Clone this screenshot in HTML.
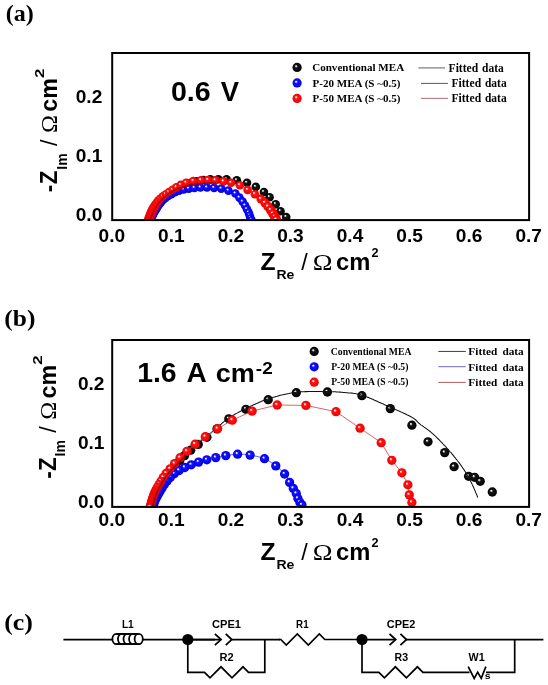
<!DOCTYPE html>
<html lang="en"><head><meta charset="utf-8"><title>Nyquist plots</title>
<style>html,body{margin:0;padding:0;background:#fff;}svg{display:block;}text{fill:#000;}</style>
</head><body>
<svg width="548" height="685" viewBox="0 0 548 685">
<defs>
<radialGradient id="gk" cx="0.5" cy="0.5" r="0.5" fx="0.37" fy="0.34"><stop offset="0" stop-color="#f0f0f0"/><stop offset="0.09" stop-color="#f0f0f0"/><stop offset="0.33" stop-color="#161616"/><stop offset="1" stop-color="#000000"/></radialGradient>
<radialGradient id="gb" cx="0.5" cy="0.5" r="0.5" fx="0.37" fy="0.34"><stop offset="0" stop-color="#f4f4ff"/><stop offset="0.09" stop-color="#f4f4ff"/><stop offset="0.33" stop-color="#1414ff"/><stop offset="1" stop-color="#0000e6"/></radialGradient>
<radialGradient id="gr" cx="0.5" cy="0.5" r="0.5" fx="0.37" fy="0.34"><stop offset="0" stop-color="#fff4f4"/><stop offset="0.09" stop-color="#fff4f4"/><stop offset="0.33" stop-color="#ff1414"/><stop offset="1" stop-color="#ee0000"/></radialGradient>
</defs>
<rect width="548" height="685" fill="#fff"/>
<text transform="translate(5.70 20.80) scale(1.0459 1)" font-family='"Liberation Serif", "Times New Roman", serif' font-size="23.00" font-weight="bold">(a)</text>
<text transform="translate(4.34 326.30) scale(1.1051 1)" font-family='"Liberation Serif", "Times New Roman", serif' font-size="23.00" font-weight="bold">(b)</text>
<text transform="translate(4.13 630.00) scale(1.1244 1)" font-family='"Liberation Serif", "Times New Roman", serif' font-size="23.00" font-weight="bold">(c)</text>
<clipPath id="ca"><rect x="112.2" y="53.0" width="416.9" height="167.7"/></clipPath>
<g clip-path="url(#ca)">
<circle cx="150.4" cy="219.5" r="4.30" fill="url(#gk)"/>
<circle cx="150.7" cy="218.4" r="4.30" fill="url(#gk)"/>
<circle cx="151.1" cy="217.1" r="4.30" fill="url(#gk)"/>
<circle cx="151.5" cy="215.8" r="4.30" fill="url(#gk)"/>
<circle cx="152.0" cy="214.4" r="4.30" fill="url(#gk)"/>
<circle cx="152.8" cy="212.9" r="4.30" fill="url(#gk)"/>
<circle cx="153.7" cy="211.4" r="4.30" fill="url(#gk)"/>
<circle cx="154.7" cy="209.8" r="4.30" fill="url(#gk)"/>
<circle cx="155.7" cy="207.9" r="4.30" fill="url(#gk)"/>
<circle cx="156.8" cy="206.0" r="4.30" fill="url(#gk)"/>
<circle cx="158.2" cy="203.9" r="4.30" fill="url(#gk)"/>
<circle cx="159.8" cy="201.8" r="4.30" fill="url(#gk)"/>
<circle cx="161.8" cy="199.7" r="4.30" fill="url(#gk)"/>
<circle cx="164.1" cy="197.5" r="4.30" fill="url(#gk)"/>
<circle cx="166.7" cy="195.4" r="4.30" fill="url(#gk)"/>
<circle cx="169.7" cy="193.2" r="4.30" fill="url(#gk)"/>
<circle cx="173.0" cy="190.9" r="4.30" fill="url(#gk)"/>
<circle cx="176.8" cy="188.7" r="4.30" fill="url(#gk)"/>
<circle cx="181.0" cy="186.6" r="4.30" fill="url(#gk)"/>
<circle cx="185.7" cy="184.6" r="4.30" fill="url(#gk)"/>
<circle cx="191.0" cy="182.8" r="4.30" fill="url(#gk)"/>
<circle cx="196.8" cy="181.2" r="4.30" fill="url(#gk)"/>
<circle cx="203.2" cy="180.0" r="4.30" fill="url(#gk)"/>
<circle cx="210.3" cy="179.4" r="4.30" fill="url(#gk)"/>
<circle cx="218.3" cy="179.2" r="4.30" fill="url(#gk)"/>
<circle cx="226.6" cy="179.3" r="4.30" fill="url(#gk)"/>
<circle cx="236.8" cy="180.3" r="4.30" fill="url(#gk)"/>
<circle cx="247.0" cy="182.8" r="4.30" fill="url(#gk)"/>
<circle cx="255.8" cy="186.9" r="4.30" fill="url(#gk)"/>
<circle cx="263.9" cy="192.0" r="4.30" fill="url(#gk)"/>
<circle cx="269.6" cy="197.2" r="4.30" fill="url(#gk)"/>
<circle cx="275.7" cy="204.2" r="4.30" fill="url(#gk)"/>
<circle cx="280.5" cy="211.2" r="4.30" fill="url(#gk)"/>
<circle cx="286.2" cy="217.0" r="4.30" fill="url(#gk)"/>
<circle cx="150.6" cy="219.5" r="4.30" fill="url(#gb)"/>
<circle cx="151.0" cy="218.4" r="4.30" fill="url(#gb)"/>
<circle cx="151.5" cy="217.2" r="4.30" fill="url(#gb)"/>
<circle cx="152.2" cy="216.0" r="4.30" fill="url(#gb)"/>
<circle cx="152.9" cy="214.7" r="4.30" fill="url(#gb)"/>
<circle cx="153.7" cy="213.2" r="4.30" fill="url(#gb)"/>
<circle cx="154.6" cy="211.6" r="4.30" fill="url(#gb)"/>
<circle cx="155.6" cy="210.0" r="4.30" fill="url(#gb)"/>
<circle cx="156.7" cy="208.2" r="4.30" fill="url(#gb)"/>
<circle cx="157.9" cy="206.2" r="4.30" fill="url(#gb)"/>
<circle cx="159.3" cy="204.2" r="4.30" fill="url(#gb)"/>
<circle cx="161.0" cy="202.1" r="4.30" fill="url(#gb)"/>
<circle cx="163.0" cy="200.0" r="4.30" fill="url(#gb)"/>
<circle cx="165.4" cy="198.0" r="4.30" fill="url(#gb)"/>
<circle cx="168.2" cy="196.0" r="4.30" fill="url(#gb)"/>
<circle cx="171.4" cy="194.1" r="4.30" fill="url(#gb)"/>
<circle cx="175.0" cy="192.3" r="4.30" fill="url(#gb)"/>
<circle cx="179.1" cy="190.8" r="4.30" fill="url(#gb)"/>
<circle cx="183.7" cy="189.5" r="4.30" fill="url(#gb)"/>
<circle cx="188.8" cy="188.6" r="4.30" fill="url(#gb)"/>
<circle cx="194.4" cy="187.9" r="4.30" fill="url(#gb)"/>
<circle cx="200.4" cy="187.5" r="4.30" fill="url(#gb)"/>
<circle cx="207.0" cy="187.5" r="4.30" fill="url(#gb)"/>
<circle cx="214.1" cy="187.9" r="4.30" fill="url(#gb)"/>
<circle cx="221.3" cy="188.6" r="4.30" fill="url(#gb)"/>
<circle cx="228.4" cy="190.6" r="4.30" fill="url(#gb)"/>
<circle cx="235.4" cy="193.5" r="4.30" fill="url(#gb)"/>
<circle cx="239.4" cy="197.6" r="4.30" fill="url(#gb)"/>
<circle cx="242.6" cy="201.6" r="4.30" fill="url(#gb)"/>
<circle cx="245.1" cy="205.5" r="4.30" fill="url(#gb)"/>
<circle cx="247.0" cy="209.3" r="4.30" fill="url(#gb)"/>
<circle cx="248.7" cy="212.6" r="4.30" fill="url(#gb)"/>
<circle cx="249.7" cy="215.6" r="4.30" fill="url(#gb)"/>
<circle cx="250.5" cy="218.2" r="4.30" fill="url(#gb)"/>
<circle cx="251.6" cy="220.4" r="4.30" fill="url(#gb)"/>
<circle cx="149.0" cy="219.5" r="4.90" fill="url(#gr)"/>
<circle cx="149.3" cy="218.3" r="4.90" fill="url(#gr)"/>
<circle cx="149.8" cy="217.1" r="4.90" fill="url(#gr)"/>
<circle cx="150.3" cy="215.7" r="4.90" fill="url(#gr)"/>
<circle cx="150.9" cy="214.2" r="4.90" fill="url(#gr)"/>
<circle cx="151.5" cy="212.6" r="4.90" fill="url(#gr)"/>
<circle cx="152.3" cy="210.9" r="4.90" fill="url(#gr)"/>
<circle cx="153.1" cy="209.1" r="4.87" fill="url(#gr)"/>
<circle cx="154.2" cy="207.2" r="4.79" fill="url(#gr)"/>
<circle cx="155.4" cy="205.1" r="4.72" fill="url(#gr)"/>
<circle cx="156.8" cy="203.0" r="4.64" fill="url(#gr)"/>
<circle cx="158.5" cy="200.8" r="4.55" fill="url(#gr)"/>
<circle cx="160.6" cy="198.6" r="4.47" fill="url(#gr)"/>
<circle cx="163.0" cy="196.3" r="4.39" fill="url(#gr)"/>
<circle cx="165.9" cy="194.2" r="4.31" fill="url(#gr)"/>
<circle cx="169.1" cy="192.0" r="4.30" fill="url(#gr)"/>
<circle cx="172.6" cy="189.7" r="4.30" fill="url(#gr)"/>
<circle cx="176.4" cy="187.2" r="4.30" fill="url(#gr)"/>
<circle cx="180.8" cy="184.9" r="4.30" fill="url(#gr)"/>
<circle cx="186.2" cy="182.7" r="4.30" fill="url(#gr)"/>
<circle cx="193.3" cy="181.0" r="4.30" fill="url(#gr)"/>
<circle cx="201.0" cy="180.2" r="4.30" fill="url(#gr)"/>
<circle cx="208.1" cy="180.0" r="4.30" fill="url(#gr)"/>
<circle cx="215.3" cy="180.3" r="4.30" fill="url(#gr)"/>
<circle cx="223.5" cy="181.4" r="4.30" fill="url(#gr)"/>
<circle cx="231.1" cy="182.8" r="4.30" fill="url(#gr)"/>
<circle cx="239.9" cy="185.2" r="4.30" fill="url(#gr)"/>
<circle cx="247.6" cy="189.9" r="4.30" fill="url(#gr)"/>
<circle cx="254.9" cy="194.2" r="4.31" fill="url(#gr)"/>
<circle cx="260.9" cy="199.1" r="4.49" fill="url(#gr)"/>
<circle cx="265.0" cy="202.9" r="4.63" fill="url(#gr)"/>
<circle cx="268.1" cy="206.7" r="4.78" fill="url(#gr)"/>
<circle cx="270.9" cy="210.3" r="4.90" fill="url(#gr)"/>
<circle cx="273.1" cy="213.8" r="4.90" fill="url(#gr)"/>
<circle cx="274.9" cy="217.0" r="4.90" fill="url(#gr)"/>
<circle cx="276.3" cy="219.8" r="4.90" fill="url(#gr)"/>
<path d="M150.0 220.5 L150.0 220.4 L150.0 220.4 L150.1 220.3 L150.1 220.3 L150.1 220.2 L150.1 220.1 L150.1 220.1 L150.1 220.0 L150.2 219.9 L150.2 219.8 L150.2 219.8 L150.2 219.7 L150.3 219.6 L150.3 219.4 L150.3 219.3 L150.4 219.2 L150.4 219.1 L150.5 218.9 L150.5 218.8 L150.6 218.6 L150.7 218.5 L150.7 218.3 L150.8 218.1 L150.9 217.9 L151.0 217.7 L151.1 217.5 L151.2 217.2 L151.3 217.0 L151.4 216.7 L151.5 216.4 L151.7 216.1 L151.8 215.8 L151.9 215.5 L152.0 215.2 L152.2 214.9 L152.3 214.5 L152.5 214.2 L152.6 213.9 L152.8 213.5 L152.9 213.2 L153.1 212.9 L153.2 212.5 L153.4 212.2 L153.6 211.9 L153.7 211.5 L153.9 211.2 L154.0 210.9 L154.2 210.6 L154.4 210.3 L154.5 210.0 L154.7 209.7 L154.9 209.4 L155.0 209.1 L155.2 208.7 L155.4 208.4 L155.5 208.1 L155.7 207.8 L155.9 207.5 L156.1 207.2 L156.3 206.9 L156.4 206.5 L156.6 206.2 L156.8 205.9 L157.0 205.6 L157.2 205.3 L157.4 205.0 L157.6 204.7 L157.8 204.4 L158.0 204.1 L158.2 203.9 L158.4 203.6 L158.6 203.3 L158.8 203.0 L159.0 202.8 L159.2 202.5 L159.4 202.2 L159.7 202.0 L159.9 201.7 L160.1 201.5 L160.3 201.2 L160.5 201.0 L160.8 200.7 L161.0 200.5 L161.2 200.2 L161.5 200.0 L161.7 199.8 L161.9 199.5 L162.2 199.3 L162.4 199.1 L162.6 198.8 L162.9 198.6 L163.1 198.4 L163.4 198.2 L163.6 197.9 L163.9 197.7 L164.1 197.5 L164.3 197.3 L164.6 197.1 L164.8 196.8 L165.1 196.6 L165.4 196.4 L165.6 196.2 L165.9 196.0 L166.1 195.8 L166.4 195.6 L166.6 195.4 L166.9 195.2 L167.2 195.0 L167.4 194.8 L167.7 194.6 L168.0 194.4 L168.3 194.2 L168.5 194.0 L168.8 193.8 L169.1 193.6 L169.4 193.4 L169.6 193.3 L169.9 193.1 L170.2 192.9 L170.5 192.7 L170.8 192.5 L171.1 192.3 L171.4 192.1 L171.7 192.0 L171.9 191.8 L172.2 191.6 L172.5 191.4 L172.8 191.3 L173.1 191.1 L173.4 190.9 L173.7 190.7 L174.0 190.6 L174.3 190.4 L174.6 190.2 L175.0 190.0 L175.3 189.9 L175.6 189.7 L175.9 189.6 L176.3 189.4 L176.6 189.2 L176.9 189.1 L177.3 188.9 L177.6 188.8 L178.0 188.6 L178.4 188.4 L178.7 188.3 L179.1 188.1 L179.5 188.0 L179.9 187.8 L180.3 187.7 L180.7 187.5 L181.1 187.4 L181.5 187.2 L181.9 187.1 L182.3 186.9 L182.7 186.8 L183.2 186.7 L183.6 186.5 L184.0 186.4 L184.4 186.2 L184.9 186.1 L185.3 186.0 L185.7 185.9 L186.2 185.7 L186.6 185.6 L187.0 185.5 L187.5 185.4 L187.9 185.3 L188.3 185.2 L188.8 185.1 L189.2 185.0 L189.7 184.9 L190.1 184.8 L190.6 184.8 L191.0 184.7 L191.5 184.6 L191.9 184.5 L192.4 184.5 L192.8 184.4 L193.3 184.3 L193.7 184.3 L194.2 184.2 L194.7 184.2 L195.1 184.1 L195.6 184.0 L196.0 184.0 L196.5 183.9 L197.0 183.9 L197.4 183.8 L197.9 183.8 L198.3 183.7 L198.8 183.7 L199.3 183.7 L199.7 183.6 L200.2 183.6 L200.7 183.5 L201.2 183.5 L201.7 183.5 L202.1 183.4 L202.6 183.4 L203.1 183.4 L203.6 183.3 L204.1 183.3 L204.6 183.3 L205.1 183.3 L205.6 183.2 L206.0 183.2 L206.5 183.2 L206.9 183.2 L207.4 183.2 L207.8 183.2 L208.2 183.1 L208.7 183.1 L209.1 183.1 L209.4 183.1 L209.8 183.1 L210.2 183.1 L210.5 183.1 L210.8 183.1 L211.2 183.1 L211.5 183.1 L211.8 183.1 L212.1 183.1 L212.5 183.1 L212.7 183.1 L213.0 183.1 L213.3 183.1 L213.6 183.1 L213.8 183.1 L214.1 183.1 L214.3 183.1 L214.6 183.1 L214.8 183.2 L215.0 183.2 L215.2 183.2 L215.4 183.2 L215.6 183.2 L215.7 183.2 L215.9 183.2 L216.0 183.2" fill="none" stroke="#8c0a14" stroke-width="1.3" opacity="0.85"/>
<path d="M153.6 220.5 L153.6 220.4 L153.6 220.4 L153.7 220.3 L153.7 220.3 L153.7 220.2 L153.7 220.1 L153.7 220.1 L153.8 220.0 L153.8 219.9 L153.8 219.8 L153.9 219.8 L153.9 219.7 L153.9 219.6 L154.0 219.4 L154.0 219.3 L154.1 219.2 L154.1 219.1 L154.2 218.9 L154.2 218.8 L154.3 218.6 L154.4 218.5 L154.4 218.3 L154.5 218.1 L154.6 217.9 L154.7 217.7 L154.8 217.5 L154.9 217.2 L155.0 217.0 L155.1 216.7 L155.2 216.4 L155.4 216.1 L155.5 215.8 L155.6 215.5 L155.8 215.2 L155.9 214.9 L156.0 214.5 L156.2 214.2 L156.3 213.9 L156.5 213.5 L156.6 213.2 L156.8 212.9 L156.9 212.5 L157.1 212.2 L157.3 211.9 L157.4 211.5 L157.6 211.2 L157.7 210.9 L157.9 210.6 L158.1 210.3 L158.2 210.0 L158.4 209.7 L158.6 209.4 L158.7 209.1 L158.9 208.7 L159.1 208.4 L159.2 208.1 L159.4 207.8 L159.6 207.5 L159.8 207.2 L160.0 206.9 L160.2 206.5 L160.3 206.2 L160.5 205.9 L160.7 205.6 L160.9 205.3 L161.1 205.0 L161.3 204.7 L161.5 204.4 L161.7 204.1 L161.9 203.9 L162.1 203.6 L162.3 203.3 L162.5 203.0 L162.7 202.8 L162.9 202.5 L163.1 202.2 L163.3 202.0 L163.5 201.7 L163.7 201.5 L163.9 201.2 L164.1 201.0 L164.4 200.7 L164.6 200.5 L164.8 200.3 L165.0 200.0 L165.2 199.8 L165.5 199.5 L165.7 199.3 L165.9 199.1 L166.2 198.9 L166.4 198.6 L166.6 198.4 L166.9 198.2 L167.2 197.9 L167.4 197.7 L167.7 197.5 L168.0 197.3 L168.3 197.0 L168.6 196.8 L169.0 196.6 L169.3 196.3 L169.7 196.1 L170.0 195.9 L170.4 195.6 L170.8 195.4 L171.2 195.1 L171.6 194.9 L171.9 194.7 L172.3 194.5 L172.7 194.2 L173.0 194.0 L173.4 193.8 L173.7 193.6 L174.0 193.5 L174.3 193.3 L174.6 193.1 L174.9 193.0 L175.1 192.8 L175.3 192.7 L175.5 192.6" fill="none" stroke="#3c14b4" stroke-width="1.2" opacity="0.85"/>
</g>
<rect x="112.2" y="53.0" width="416.9" height="167.1" fill="none" stroke="#000" stroke-width="2.0"/>
<text x="98.53" y="242.00" font-family='"Liberation Sans", Arial, sans-serif' font-size="19.10" font-weight="bold">0.0</text>
<text x="158.08" y="242.00" font-family='"Liberation Sans", Arial, sans-serif' font-size="19.10" font-weight="bold">0.1</text>
<text x="217.63" y="242.00" font-family='"Liberation Sans", Arial, sans-serif' font-size="19.10" font-weight="bold">0.2</text>
<text x="277.18" y="242.00" font-family='"Liberation Sans", Arial, sans-serif' font-size="19.10" font-weight="bold">0.3</text>
<text x="336.73" y="242.00" font-family='"Liberation Sans", Arial, sans-serif' font-size="19.10" font-weight="bold">0.4</text>
<text x="396.28" y="242.00" font-family='"Liberation Sans", Arial, sans-serif' font-size="19.10" font-weight="bold">0.5</text>
<text x="455.83" y="242.00" font-family='"Liberation Sans", Arial, sans-serif' font-size="19.10" font-weight="bold">0.6</text>
<text x="515.38" y="242.00" font-family='"Liberation Sans", Arial, sans-serif' font-size="19.10" font-weight="bold">0.7</text>
<text x="75.75" y="220.60" font-family='"Liberation Sans", Arial, sans-serif' font-size="19.10" font-weight="bold">0.0</text>
<text x="75.75" y="161.90" font-family='"Liberation Sans", Arial, sans-serif' font-size="19.10" font-weight="bold">0.1</text>
<text x="75.75" y="102.50" font-family='"Liberation Sans", Arial, sans-serif' font-size="19.10" font-weight="bold">0.2</text>
<text transform="translate(260.61 269.85) scale(1.0703 1)" font-family='"Liberation Sans", Arial, sans-serif' font-size="23.00" font-weight="bold">Z</text>
<text transform="translate(276.41 279.35) scale(1.0408 1)" font-family='"Liberation Sans", Arial, sans-serif' font-size="13.50" font-weight="bold">Re</text>
<text transform="translate(301.15 269.85) scale(1.0156 1)" font-family='"Liberation Sans", Arial, sans-serif' font-size="23.00" font-weight="normal">/</text>
<text transform="translate(312.68 269.85) scale(1.1544 1)" font-family='"Liberation Serif", "Times New Roman", serif' font-size="23.00" font-weight="normal">Ω</text>
<text transform="translate(336.12 269.85) scale(1.0324 1)" font-family='"Liberation Sans", Arial, sans-serif' font-size="23.00" font-weight="bold">cm</text>
<text transform="translate(371.57 256.85) scale(0.9394 1)" font-family='"Liberation Sans", Arial, sans-serif' font-size="13.50" font-weight="bold">2</text>
<text transform="translate(57.40 192.14) rotate(-90) scale(0.9833 1)" font-family='"Liberation Sans", Arial, sans-serif' font-size="23.00" font-weight="bold">-</text>
<text transform="translate(57.40 184.24) rotate(-90) scale(0.9766 1)" font-family='"Liberation Sans", Arial, sans-serif' font-size="23.00" font-weight="bold">Z</text>
<text transform="translate(67.00 169.75) rotate(-90) scale(1.0007 1)" font-family='"Liberation Sans", Arial, sans-serif' font-size="14.00" font-weight="bold">Im</text>
<text transform="translate(57.40 145.95) rotate(-90) scale(1.0156 1)" font-family='"Liberation Sans", Arial, sans-serif' font-size="23.00" font-weight="normal">/</text>
<text transform="translate(57.40 133.11) rotate(-90) scale(1.0537 1)" font-family='"Liberation Serif", "Times New Roman", serif' font-size="23.00" font-weight="normal">Ω</text>
<text transform="translate(57.40 111.76) rotate(-90) scale(1.0099 1)" font-family='"Liberation Sans", Arial, sans-serif' font-size="23.00" font-weight="bold">cm</text>
<text transform="translate(44.10 78.05) rotate(-90) scale(1.2500 1)" font-family='"Liberation Sans", Arial, sans-serif' font-size="13.50" font-weight="bold">2</text>
<text transform="translate(170.96 101.20) scale(1.0227 1)" font-family='"Liberation Sans", Arial, sans-serif' font-size="28.00" font-weight="bold">0.6</text>
<text transform="translate(220.85 101.20) scale(0.9781 1)" font-family='"Liberation Sans", Arial, sans-serif' font-size="28.00" font-weight="bold">V</text>
<circle cx="297.1" cy="67.4" r="4.6" fill="url(#gk)"/>
<circle cx="297.1" cy="82.9" r="4.6" fill="url(#gb)"/>
<circle cx="297.1" cy="98.4" r="4.6" fill="url(#gr)"/>
<text transform="translate(312.15 70.65) scale(1.0085 1)" font-family='"Liberation Serif", "Times New Roman", serif' font-size="11.00" font-weight="bold">Conventional MEA</text>
<text transform="translate(312.55 86.65) scale(1.0052 1)" font-family='"Liberation Serif", "Times New Roman", serif' font-size="11.00" font-weight="bold">P-20 MEA (S ~0.5)</text>
<text transform="translate(312.55 102.25) scale(1.0052 1)" font-family='"Liberation Serif", "Times New Roman", serif' font-size="11.00" font-weight="bold">P-50 MEA (S ~0.5)</text>
<line x1="418.3" y1="67.9" x2="445.0" y2="67.9" stroke="#6e6e6e" stroke-width="1.1"/>
<line x1="421.0" y1="83.4" x2="447.9" y2="83.4" stroke="#3c3c96" stroke-width="0.9"/>
<line x1="421.0" y1="98.35" x2="447.9" y2="98.35" stroke="#a85a64" stroke-width="0.9"/>
<text transform="translate(448.55 71.90) scale(1.0006 1)" font-family='"Liberation Serif", "Times New Roman", serif' font-size="11.60" font-weight="bold">Fitted</text>
<text transform="translate(482.05 71.90) scale(0.9900 1)" font-family='"Liberation Serif", "Times New Roman", serif' font-size="11.60" font-weight="bold">data</text>
<text transform="translate(451.45 86.80) scale(1.0006 1)" font-family='"Liberation Serif", "Times New Roman", serif' font-size="11.60" font-weight="bold">Fitted</text>
<text transform="translate(484.95 86.80) scale(0.9900 1)" font-family='"Liberation Serif", "Times New Roman", serif' font-size="11.60" font-weight="bold">data</text>
<text transform="translate(451.45 102.00) scale(1.0006 1)" font-family='"Liberation Serif", "Times New Roman", serif' font-size="11.60" font-weight="bold">Fitted</text>
<text transform="translate(484.95 102.00) scale(0.9900 1)" font-family='"Liberation Serif", "Times New Roman", serif' font-size="11.60" font-weight="bold">data</text>
<clipPath id="cb"><rect x="112.2" y="340.0" width="416.9" height="167.5"/></clipPath>
<g clip-path="url(#cb)">
<circle cx="217.0" cy="428.9" r="4.65" fill="url(#gk)"/>
<circle cx="206.9" cy="437.3" r="4.65" fill="url(#gk)"/>
<circle cx="198.2" cy="444.4" r="4.65" fill="url(#gk)"/>
<circle cx="190.7" cy="450.2" r="4.65" fill="url(#gk)"/>
<circle cx="184.6" cy="455.6" r="4.65" fill="url(#gk)"/>
<circle cx="179.8" cy="460.5" r="4.65" fill="url(#gk)"/>
<circle cx="175.9" cy="464.9" r="4.65" fill="url(#gk)"/>
<circle cx="172.7" cy="468.6" r="4.65" fill="url(#gk)"/>
<circle cx="169.9" cy="471.8" r="4.65" fill="url(#gk)"/>
<circle cx="167.6" cy="474.5" r="4.65" fill="url(#gk)"/>
<circle cx="165.8" cy="477.0" r="4.65" fill="url(#gk)"/>
<circle cx="164.4" cy="479.2" r="4.65" fill="url(#gk)"/>
<circle cx="163.2" cy="481.0" r="4.65" fill="url(#gk)"/>
<circle cx="162.2" cy="482.6" r="4.65" fill="url(#gk)"/>
<circle cx="161.3" cy="484.0" r="4.65" fill="url(#gk)"/>
<circle cx="160.6" cy="485.1" r="4.65" fill="url(#gk)"/>
<circle cx="160.0" cy="486.2" r="4.65" fill="url(#gk)"/>
<circle cx="159.3" cy="487.4" r="4.65" fill="url(#gk)"/>
<circle cx="158.7" cy="488.5" r="4.65" fill="url(#gk)"/>
<circle cx="158.2" cy="489.7" r="4.65" fill="url(#gk)"/>
<circle cx="157.7" cy="490.9" r="4.65" fill="url(#gk)"/>
<circle cx="157.2" cy="492.1" r="4.65" fill="url(#gk)"/>
<circle cx="156.7" cy="493.3" r="4.65" fill="url(#gk)"/>
<circle cx="156.2" cy="494.5" r="4.65" fill="url(#gk)"/>
<circle cx="155.8" cy="495.7" r="4.65" fill="url(#gk)"/>
<circle cx="155.3" cy="496.9" r="4.65" fill="url(#gk)"/>
<circle cx="154.9" cy="498.2" r="4.65" fill="url(#gk)"/>
<circle cx="154.5" cy="499.4" r="4.65" fill="url(#gk)"/>
<circle cx="154.1" cy="500.6" r="4.65" fill="url(#gk)"/>
<circle cx="153.7" cy="501.9" r="4.65" fill="url(#gk)"/>
<circle cx="153.4" cy="503.1" r="4.65" fill="url(#gk)"/>
<circle cx="153.0" cy="504.4" r="4.65" fill="url(#gk)"/>
<circle cx="152.7" cy="505.7" r="4.65" fill="url(#gk)"/>
<circle cx="152.4" cy="506.9" r="4.65" fill="url(#gk)"/>
<circle cx="228.8" cy="418.8" r="4.65" fill="url(#gk)"/>
<circle cx="245.9" cy="409.3" r="4.65" fill="url(#gk)"/>
<circle cx="268.2" cy="399.7" r="4.65" fill="url(#gk)"/>
<circle cx="296.3" cy="392.7" r="4.65" fill="url(#gk)"/>
<circle cx="327.4" cy="392.0" r="4.65" fill="url(#gk)"/>
<circle cx="361.9" cy="395.7" r="4.65" fill="url(#gk)"/>
<circle cx="390.3" cy="408.6" r="4.65" fill="url(#gk)"/>
<circle cx="411.9" cy="425.2" r="4.65" fill="url(#gk)"/>
<circle cx="428.0" cy="441.8" r="4.65" fill="url(#gk)"/>
<circle cx="444.7" cy="452.6" r="4.65" fill="url(#gk)"/>
<circle cx="454.1" cy="466.7" r="4.65" fill="url(#gk)"/>
<circle cx="468.6" cy="476.3" r="4.65" fill="url(#gk)"/>
<circle cx="474.6" cy="477.3" r="4.65" fill="url(#gk)"/>
<circle cx="480.2" cy="481.3" r="4.65" fill="url(#gk)"/>
<circle cx="492.3" cy="492.0" r="4.65" fill="url(#gk)"/>
<path d="M152.2 507.5 L152.3 507.3 L152.3 507.0 L152.4 506.7 L152.5 506.4 L152.6 506.0 L152.7 505.6 L152.8 505.2 L152.9 504.8 L153.1 504.4 L153.2 503.9 L153.3 503.5 L153.5 503.0 L153.6 502.5 L153.7 502.0 L153.9 501.5 L154.0 501.0 L154.2 500.5 L154.3 500.0 L154.5 499.5 L154.6 499.1 L154.8 498.6 L154.9 498.2 L155.1 497.7 L155.2 497.3 L155.3 496.9 L155.5 496.5 L155.6 496.1 L155.8 495.6 L156.0 495.2 L156.1 494.8 L156.3 494.4 L156.5 493.9 L156.6 493.5 L156.8 493.1 L157.0 492.7 L157.1 492.3 L157.3 491.9 L157.5 491.5 L157.6 491.1 L157.8 490.7 L158.0 490.3 L158.1 490.0 L158.3 489.6 L158.4 489.3 L158.6 488.9 L158.7 488.6 L158.9 488.3 L159.0 488.0 L159.1 487.7 L159.3 487.5 L159.4 487.2 L159.5 487.0 L159.6 486.8 L159.7 486.6 L159.8 486.4 L159.9 486.2 L160.0 486.0 L160.1 485.9 L160.2 485.7 L160.3 485.5 L160.4 485.4 L160.5 485.2 L160.6 485.1 L160.7 485.0 L160.8 484.8 L160.9 484.7 L161.0 484.5 L161.1 484.4 L161.2 484.2 L161.3 484.0 L161.4 483.9 L161.5 483.7 L161.6 483.5 L161.7 483.3 L161.8 483.2 L161.9 483.0 L162.0 482.8 L162.1 482.7 L162.3 482.5 L162.4 482.3 L162.5 482.2 L162.6 482.0 L162.7 481.8 L162.8 481.7 L162.9 481.5 L163.0 481.3 L163.1 481.1 L163.3 480.9 L163.4 480.8 L163.5 480.6 L163.6 480.4 L163.8 480.2 L163.9 480.0 L164.0 479.8 L164.2 479.5 L164.3 479.3 L164.4 479.1 L164.6 478.8 L164.7 478.6 L164.9 478.3 L165.1 478.0 L165.2 477.8 L165.4 477.5 L165.5 477.2 L165.7 476.9 L165.9 476.6 L166.0 476.3 L166.2 476.0 L166.4 475.7 L166.6 475.4 L166.7 475.1 L166.9 474.8 L167.1 474.5 L167.3 474.2 L167.5 473.9 L167.6 473.6 L167.8 473.4 L168.0 473.1 L168.2 472.8 L168.4 472.5 L168.6 472.2 L168.8 471.9 L169.0 471.7 L169.2 471.4 L169.4 471.1 L169.5 470.9 L169.7 470.6 L169.9 470.3 L170.1 470.1 L170.3 469.8 L170.5 469.5 L170.7 469.3 L170.9 469.0 L171.1 468.7 L171.3 468.5 L171.6 468.2 L171.8 467.9 L172.0 467.7 L172.2 467.4 L172.4 467.1 L172.7 466.8 L172.9 466.6 L173.2 466.3 L173.4 466.0 L173.7 465.7 L173.9 465.4 L174.2 465.1 L174.4 464.9 L174.7 464.6 L175.0 464.3 L175.2 464.0 L175.5 463.7 L175.8 463.4 L176.1 463.1 L176.4 462.8 L176.7 462.5 L177.0 462.2 L177.3 461.9 L177.6 461.6 L177.9 461.4 L178.2 461.1 L178.5 460.8 L178.8 460.5 L179.1 460.2 L179.4 459.9 L179.7 459.6 L180.0 459.3 L180.3 459.0 L180.6 458.7 L180.9 458.4 L181.2 458.1 L181.5 457.8 L181.8 457.5 L182.2 457.2 L182.5 457.0 L182.8 456.7 L183.1 456.4 L183.4 456.1 L183.7 455.8 L184.1 455.5 L184.4 455.2 L184.7 454.9 L185.0 454.6 L185.4 454.3 L185.7 454.0 L186.0 453.8 L186.3 453.5 L186.7 453.2 L187.0 452.9 L187.3 452.6 L187.7 452.3 L188.0 452.0 L188.3 451.7 L188.7 451.4 L189.0 451.1 L189.3 450.8 L189.7 450.6 L190.0 450.3 L190.3 450.0 L190.7 449.7 L191.0 449.4 L191.3 449.1 L191.7 448.8 L192.0 448.5 L192.3 448.3 L192.7 448.0 L193.0 447.7 L193.4 447.4 L193.7 447.1 L194.1 446.8 L194.4 446.5 L194.8 446.2 L195.1 445.9 L195.5 445.6 L195.8 445.3 L196.2 445.0 L196.6 444.7 L196.9 444.4 L197.3 444.1 L197.7 443.8 L198.0 443.5 L198.4 443.2 L198.8 442.8 L199.2 442.5 L199.5 442.2 L199.9 441.9 L200.3 441.6 L200.7 441.3 L201.1 441.0 L201.5 440.6 L201.9 440.3 L202.2 440.0 L202.6 439.7 L203.0 439.3 L203.4 439.0 L203.9 438.7 L204.3 438.3 L204.7 438.0 L205.1 437.6 L205.5 437.3 L205.9 437.0 L206.3 436.6 L206.8 436.2 L207.2 435.9 L207.6 435.5 L208.1 435.2 L208.5 434.8 L208.9 434.4 L209.4 434.1 L209.8 433.7 L210.3 433.3 L210.7 433.0 L211.2 432.6 L211.6 432.2 L212.1 431.8 L212.5 431.4 L213.0 431.1 L213.4 430.7 L213.9 430.3 L214.4 429.9 L214.9 429.5 L215.3 429.1 L215.8 428.7 L216.3 428.3 L216.8 427.9 L217.3 427.5 L217.7 427.1 L218.2 426.6 L218.7 426.2 L219.2 425.8 L219.7 425.4 L220.2 424.9 L220.7 424.5 L221.2 424.1 L221.7 423.6 L222.2 423.2 L222.7 422.7 L223.2 422.3 L223.7 421.9 L224.2 421.4 L224.8 421.0 L225.3 420.5 L225.9 420.1 L226.4 419.7 L227.0 419.3 L227.6 418.8 L228.2 418.4 L228.8 418.0 L229.4 417.6 L230.0 417.2 L230.7 416.8 L231.3 416.4 L232.0 416.0 L232.6 415.6 L233.3 415.2 L234.0 414.8 L234.6 414.4 L235.3 414.0 L236.0 413.6 L236.7 413.3 L237.5 412.9 L238.2 412.5 L238.9 412.1 L239.6 411.7 L240.4 411.3 L241.2 410.9 L241.9 410.6 L242.7 410.2 L243.5 409.8 L244.3 409.4 L245.1 409.0 L245.9 408.6 L246.7 408.2 L247.6 407.8 L248.4 407.4 L249.2 407.0 L250.1 406.5 L251.0 406.1 L251.8 405.7 L252.7 405.3 L253.6 404.8 L254.5 404.4 L255.4 404.0 L256.4 403.6 L257.3 403.2 L258.2 402.7 L259.2 402.3 L260.1 401.9 L261.1 401.5 L262.1 401.1 L263.1 400.7 L264.1 400.3 L265.1 400.0 L266.1 399.6 L267.2 399.2 L268.2 398.9 L269.3 398.6 L270.3 398.2 L271.4 397.9 L272.5 397.6 L273.6 397.2 L274.7 396.9 L275.9 396.6 L277.0 396.3 L278.2 395.9 L279.3 395.6 L280.5 395.3 L281.7 395.0 L282.9 394.8 L284.1 394.5 L285.3 394.2 L286.5 393.9 L287.7 393.7 L288.9 393.5 L290.2 393.2 L291.4 393.0 L292.6 392.8 L293.8 392.6 L295.1 392.5 L296.3 392.3 L297.5 392.2 L298.8 392.0 L300.1 391.9 L301.5 391.8 L302.8 391.7 L304.2 391.7 L305.6 391.6 L306.9 391.6 L308.3 391.5 L309.7 391.5 L311.1 391.5 L312.5 391.5 L313.9 391.5 L315.2 391.5 L316.6 391.5 L317.9 391.5 L319.2 391.5 L320.5 391.5 L321.8 391.5 L323.0 391.6 L324.1 391.6 L325.3 391.6 L326.4 391.6 L327.4 391.6 L328.4 391.6 L329.3 391.6 L330.3 391.6 L331.1 391.6 L332.0 391.7 L332.8 391.7 L333.5 391.7 L334.3 391.7 L335.0 391.8 L335.7 391.8 L336.4 391.9 L337.1 391.9 L337.7 391.9 L338.4 392.0 L339.0 392.0 L339.7 392.1 L340.3 392.1 L341.0 392.2 L341.6 392.3 L342.3 392.3 L342.9 392.4 L343.6 392.5 L344.3 392.5 L345.0 392.6 L345.7 392.7 L346.4 392.7 L347.1 392.8 L347.7 392.8 L348.4 392.9 L349.0 392.9 L349.6 393.0 L350.3 393.0 L350.9 393.0 L351.5 393.1 L352.1 393.1 L352.8 393.2 L353.4 393.3 L354.1 393.4 L354.8 393.5 L355.4 393.6 L356.2 393.7 L356.9 393.9 L357.6 394.0 L358.4 394.2 L359.2 394.4 L360.1 394.6 L361.0 394.9 L361.9 395.2 L362.9 395.5 L363.9 395.9 L364.9 396.3 L366.0 396.7 L367.2 397.1 L368.4 397.6 L369.5 398.1 L370.8 398.6 L372.0 399.1 L373.3 399.6 L374.5 400.2 L375.8 400.7 L377.1 401.3 L378.4 401.9 L379.6 402.4 L380.9 403.0 L382.2 403.6 L383.4 404.1 L384.6 404.7 L385.8 405.2 L387.0 405.7 L388.1 406.2 L389.2 406.7 L390.3 407.2 L391.3 407.7 L392.4 408.1 L393.4 408.6 L394.4 409.0 L395.5 409.5 L396.5 409.9 L397.5 410.4 L398.5 410.8 L399.5 411.3 L400.5 411.7 L401.4 412.1 L402.4 412.6 L403.3 413.0 L404.2 413.4 L405.1 413.8 L406.0 414.2 L406.8 414.7 L407.6 415.1 L408.4 415.4 L409.2 415.8 L409.9 416.2 L410.6 416.6 L411.3 416.9 L411.9 417.3 L412.5 417.6 L413.0 418.0 L413.5 418.3 L414.0 418.6 L414.4 418.9 L414.8 419.2 L415.1 419.5 L415.5 419.7 L415.8 420.0 L416.0 420.3 L416.3 420.5 L416.5 420.8 L416.8 421.0 L417.0 421.3 L417.3 421.5 L417.5 421.8 L417.8 422.1 L418.0 422.3 L418.3 422.6 L418.6 422.9 L418.9 423.2 L419.2 423.5 L419.6 423.8 L420.0 424.1 L420.4 424.4 L420.9 424.8 L421.3 425.1 L421.8 425.4 L422.2 425.7 L422.7 426.1 L423.2 426.4 L423.6 426.7 L424.1 427.1 L424.6 427.4 L425.1 427.8 L425.6 428.1 L426.1 428.5 L426.7 428.9 L427.2 429.3 L427.7 429.6 L428.2 430.0 L428.8 430.4 L429.3 430.9 L429.8 431.3 L430.4 431.7 L430.9 432.2 L431.5 432.6 L432.0 433.1 L432.5 433.6 L433.1 434.1 L433.7 434.6 L434.2 435.1 L434.8 435.7 L435.4 436.2 L436.0 436.7 L436.5 437.3 L437.1 437.9 L437.7 438.5 L438.3 439.0 L438.9 439.6 L439.5 440.2 L440.1 440.9 L440.7 441.5 L441.3 442.1 L441.9 442.7 L442.5 443.3 L443.1 444.0 L443.7 444.6 L444.3 445.3 L444.9 445.9 L445.5 446.6 L446.1 447.2 L446.7 447.9 L447.3 448.5 L447.9 449.2 L448.5 449.9 L449.1 450.6 L449.7 451.3 L450.3 452.0 L451.0 452.7 L451.6 453.4 L452.2 454.2 L452.8 454.9 L453.4 455.6 L454.0 456.4 L454.6 457.1 L455.2 457.8 L455.8 458.6 L456.4 459.3 L457.0 460.0 L457.5 460.8 L458.1 461.5 L458.6 462.2 L459.2 462.9 L459.7 463.6 L460.2 464.3 L460.7 465.0 L461.2 465.7 L461.7 466.3 L462.1 467.0 L462.6 467.7 L463.0 468.4 L463.5 469.0 L463.9 469.7 L464.4 470.3 L464.8 471.0 L465.2 471.6 L465.6 472.3 L466.0 473.0 L466.4 473.6 L466.8 474.3 L467.2 474.9 L467.6 475.6 L468.0 476.2 L468.3 476.9 L468.7 477.6 L469.1 478.3 L469.5 478.9 L469.8 479.6 L470.2 480.3 L470.6 481.0 L470.9 481.7 L471.3 482.5 L471.7 483.3 L472.1 484.1 L472.4 484.9 L472.8 485.7 L473.2 486.6 L473.6 487.4 L473.9 488.2 L474.3 489.0 L474.6 489.8 L475.0 490.6 L475.3 491.4 L475.6 492.2 L475.9 492.9 L476.2 493.6 L476.5 494.3 L476.8 494.9 L477.0 495.5 L477.2 496.1 L477.4 496.6 L477.6 497.0 L477.8 497.4" fill="none" stroke="#111" stroke-width="1.05"/>
<path d="M153.0 507.5 L153.0 507.4 L153.1 507.2 L153.1 507.1 L153.2 506.9 L153.2 506.7 L153.3 506.5 L153.3 506.2 L153.4 506.0 L153.4 505.8 L153.5 505.5 L153.6 505.3 L153.6 505.0 L153.7 504.7 L153.8 504.4 L153.8 504.2 L153.9 503.9 L154.0 503.6 L154.0 503.4 L154.1 503.1 L154.2 502.8 L154.3 502.6 L154.3 502.3 L154.4 502.1 L154.5 501.9 L154.6 501.7 L154.7 501.5 L154.7 501.3 L154.8 501.1 L154.9 500.9 L155.0 500.7 L155.1 500.5 L155.1 500.3 L155.2 500.1 L155.3 499.9 L155.4 499.7 L155.5 499.5 L155.6 499.3 L155.7 499.2 L155.7 499.0 L155.8 498.8 L155.9 498.6 L156.0 498.4 L156.1 498.2 L156.2 498.0 L156.3 497.9 L156.4 497.7 L156.5 497.5 L156.6 497.3 L156.7 497.1 L156.8 496.9 L156.9 496.7 L157.0 496.5 L157.1 496.4 L157.2 496.2 L157.3 496.0 L157.4 495.8 L157.5 495.6 L157.6 495.4 L157.7 495.2 L157.9 495.1 L158.0 494.9 L158.1 494.7 L158.2 494.5 L158.3 494.3 L158.4 494.1 L158.5 493.9 L158.6 493.8 L158.7 493.6 L158.9 493.4 L159.0 493.2 L159.1 493.0 L159.2 492.8 L159.3 492.6 L159.4 492.4 L159.5 492.2 L159.7 492.0 L159.8 491.8 L159.9 491.6 L160.0 491.4 L160.1 491.2 L160.2 491.0 L160.3 490.8 L160.5 490.6 L160.6 490.4 L160.7 490.2 L160.8 490.0 L160.9 489.8 L161.0 489.6 L161.2 489.4 L161.3 489.2 L161.4 489.0 L161.5 488.8 L161.6 488.6 L161.8 488.4 L161.9 488.2 L162.0 488.0 L162.1 487.8 L162.2 487.6 L162.4 487.4 L162.5 487.3 L162.6 487.1 L162.7 486.9 L162.8 486.7 L163.0 486.5 L163.1 486.4 L163.2 486.2 L163.3 486.0 L163.4 485.8 L163.6 485.7 L163.7 485.5 L163.8 485.3 L163.9 485.1 L164.1 485.0 L164.2 484.8 L164.3 484.6 L164.5 484.4 L164.6 484.3 L164.7 484.1 L164.9 483.9 L165.0 483.7 L165.1 483.5 L165.3 483.3 L165.4 483.1 L165.6 482.9 L165.7 482.7 L165.9 482.5 L166.0 482.3 L166.2 482.2 L166.3 482.0 L166.5 481.8 L166.7 481.6 L166.8 481.4 L167.0 481.2 L167.1 481.0 L167.3 480.8 L167.5 480.6 L167.6 480.4 L167.8 480.2 L168.0 480.0 L168.1 479.8 L168.3 479.6 L168.5 479.4 L168.6 479.2 L168.8 479.0 L169.0 478.8 L169.1 478.6 L169.3 478.4 L169.5 478.2 L169.7 478.1 L169.8 477.9 L170.0 477.7 L170.2 477.5 L170.4 477.3 L170.5 477.1 L170.7 476.9 L170.9 476.8 L171.1 476.6 L171.3 476.4 L171.4 476.2 L171.6 476.0 L171.8 475.8 L172.0 475.7 L172.2 475.5 L172.4 475.3 L172.6 475.1 L172.8 474.9 L173.0 474.8 L173.2 474.6 L173.4 474.4 L173.6 474.3 L173.8 474.1 L174.1 473.9 L174.3 473.7 L174.5 473.6 L174.7 473.4 L174.9 473.2 L175.2 473.1 L175.4 472.9 L175.6 472.8 L175.9 472.6 L176.1 472.4 L176.3 472.3 L176.6 472.1 L176.8 472.0 L177.1 471.8 L177.3 471.6 L177.5 471.5 L177.8 471.3 L178.0 471.2 L178.3 471.0 L178.5 470.9 L178.8 470.7 L179.1 470.5 L179.3 470.4 L179.6 470.2 L179.9 470.1 L180.1 469.9 L180.4 469.8 L180.7 469.6 L181.0 469.5 L181.2 469.3 L181.5 469.2 L181.8 469.0 L182.1 468.9 L182.4 468.7 L182.7 468.6 L182.9 468.4 L183.2 468.3 L183.5 468.2 L183.8 468.0 L184.1 467.9 L184.4 467.7 L184.7 467.6 L184.9 467.5 L185.2 467.3 L185.5 467.2 L185.8 467.1 L186.1 466.9 L186.3 466.8 L186.6 466.7 L186.9 466.6 L187.1 466.5 L187.4 466.4 L187.7 466.2 L187.9 466.1 L188.2 466.0 L188.5 465.9 L188.8 465.8 L189.0 465.7 L189.3 465.6 L189.6 465.5 L189.8 465.4 L190.1 465.3 L190.4 465.2 L190.7 465.0 L191.0 464.9 L191.2 464.8 L191.5 464.7 L191.8 464.6 L192.1 464.5 L192.4 464.4 L192.7 464.3 L193.0 464.2 L193.3 464.0 L193.6 463.9 L193.9 463.8 L194.2 463.7 L194.5 463.6 L194.8 463.5 L195.1 463.3 L195.4 463.2 L195.7 463.1 L196.0 463.0 L196.3 462.9 L196.7 462.8 L197.0 462.7 L197.3 462.6 L197.6 462.4 L197.9 462.3 L198.2 462.2 L198.5 462.1 L198.9 462.0 L199.2 461.9 L199.5 461.8 L199.8 461.7 L200.1 461.6 L200.5 461.5 L200.8 461.4 L201.1 461.3 L201.4 461.2 L201.7 461.1 L202.1 461.0 L202.4 460.9 L202.7 460.8 L203.0 460.7 L203.4 460.7 L203.7 460.6 L204.0 460.5 L204.4 460.4 L204.7 460.3 L205.0 460.2 L205.4 460.1 L205.7 460.0 L206.0 459.9 L206.4 459.9 L206.7 459.8 L207.1 459.7 L207.4 459.6 L207.7 459.5 L208.1 459.4 L208.4 459.3 L208.8 459.3 L209.1 459.2 L209.5 459.1 L209.8 459.0 L210.2 458.9 L210.5 458.8 L210.9 458.8 L211.2 458.7 L211.6 458.6 L211.9 458.5 L212.3 458.4 L212.7 458.3 L213.0 458.3 L213.4 458.2 L213.7 458.1 L214.1 458.0 L214.5 457.9 L214.9 457.8 L215.2 457.8 L215.6 457.7 L216.0 457.6 L216.4 457.5 L216.8 457.4 L217.2 457.3 L217.5 457.3 L217.9 457.2 L218.3 457.1 L218.7 457.0 L219.1 456.9 L219.5 456.8 L219.9 456.7 L220.3 456.6 L220.7 456.6 L221.1 456.5 L221.5 456.4 L221.9 456.3 L222.3 456.2 L222.8 456.1 L223.2 456.1 L223.6 456.0 L224.0 455.9 L224.5 455.8 L224.9 455.7 L225.4 455.7 L225.8 455.6 L226.3 455.5 L226.7 455.5 L227.2 455.4 L227.6 455.3 L228.1 455.2 L228.6 455.2 L229.1 455.1 L229.6 455.0 L230.0 454.9 L230.5 454.9 L231.0 454.8 L231.5 454.7 L232.0 454.7 L232.5 454.6 L233.0 454.5 L233.5 454.5 L234.0 454.4 L234.6 454.4 L235.1 454.3 L235.6 454.3 L236.1 454.3 L236.6 454.2 L237.1 454.2 L237.6 454.2 L238.1 454.2 L238.6 454.2 L239.1 454.2 L239.6 454.2 L240.1 454.2 L240.6 454.2 L241.1 454.2 L241.6 454.2 L242.2 454.3 L242.7 454.3 L243.2 454.3 L243.7 454.3 L244.2 454.4 L244.7 454.4 L245.2 454.5 L245.8 454.5 L246.3 454.6 L246.8 454.6 L247.4 454.7 L247.9 454.8 L248.4 454.8 L249.0 454.9 L249.5 455.0 L250.1 455.1 L250.7 455.2 L251.2 455.3 L251.8 455.4 L252.4 455.5 L253.0 455.6 L253.6 455.7 L254.3 455.8 L254.9 456.0 L255.5 456.1 L256.1 456.2 L256.7 456.4 L257.4 456.5 L258.0 456.7 L258.6 456.8 L259.2 457.0 L259.9 457.1 L260.5 457.3 L261.1 457.5 L261.7 457.7 L262.3 457.9 L262.8 458.1 L263.4 458.3 L264.0 458.5 L264.5 458.7 L265.0 458.9 L265.6 459.2 L266.1 459.4 L266.6 459.7 L267.1 459.9 L267.6 460.2 L268.1 460.5 L268.6 460.8 L269.1 461.1 L269.6 461.4 L270.0 461.7 L270.5 462.0 L271.0 462.3 L271.4 462.7 L271.9 463.0 L272.3 463.3 L272.8 463.6 L273.2 464.0 L273.7 464.3 L274.1 464.6 L274.5 464.9 L275.0 465.3 L275.4 465.6 L275.8 465.9 L276.2 466.2 L276.6 466.5 L277.0 466.9 L277.5 467.2 L277.9 467.5 L278.3 467.9 L278.7 468.2 L279.1 468.5 L279.5 468.9 L279.8 469.2 L280.2 469.5 L280.6 469.9 L281.0 470.2 L281.3 470.6 L281.7 470.9 L282.0 471.2 L282.4 471.6 L282.7 471.9 L283.1 472.3 L283.4 472.6 L283.7 473.0 L284.0 473.3 L284.3 473.7 L284.6 474.0 L284.9 474.3 L285.2 474.7 L285.4 475.1 L285.7 475.4 L285.9 475.8 L286.1 476.1 L286.4 476.5 L286.6 476.9 L286.8 477.2 L287.0 477.6 L287.2 478.0 L287.4 478.3 L287.6 478.7 L287.8 479.1 L288.0 479.4 L288.2 479.8 L288.4 480.1 L288.5 480.5 L288.7 480.8 L288.9 481.1 L289.1 481.5 L289.2 481.8 L289.4 482.1 L289.6 482.4 L289.8 482.7 L290.0 483.0 L290.1 483.3 L290.3 483.5 L290.5 483.8 L290.6 484.1 L290.8 484.4 L291.0 484.6 L291.1 484.9 L291.3 485.1 L291.4 485.4 L291.6 485.6 L291.7 485.8 L291.9 486.1 L292.0 486.3 L292.2 486.6 L292.3 486.8 L292.5 487.0 L292.6 487.2 L292.7 487.5 L292.9 487.7 L293.0 487.9 L293.2 488.2 L293.3 488.4 L293.4 488.6 L293.6 488.9 L293.7 489.1 L293.9 489.3 L294.0 489.5 L294.1 489.7 L294.3 490.0 L294.4 490.2 L294.5 490.4 L294.7 490.6 L294.8 490.8 L294.9 491.0 L295.1 491.2 L295.2 491.4 L295.3 491.6 L295.4 491.8 L295.5 492.0 L295.7 492.3 L295.8 492.5 L295.9 492.7 L296.0 492.9 L296.1 493.1 L296.2 493.3 L296.3 493.5 L296.4 493.7 L296.5 493.9 L296.6 494.1 L296.6 494.4 L296.7 494.6 L296.8 494.8 L296.9 495.0 L296.9 495.2 L297.0 495.4 L297.0 495.6 L297.1 495.9 L297.2 496.1 L297.2 496.3 L297.3 496.5 L297.3 496.7 L297.4 496.9 L297.4 497.1 L297.5 497.3 L297.6 497.5 L297.6 497.7 L297.7 497.9 L297.8 498.1 L297.8 498.3 L297.9 498.5 L298.0 498.7 L298.1 498.9 L298.1 499.1 L298.2 499.2 L298.3 499.4 L298.4 499.6 L298.5 499.8 L298.5 500.0 L298.6 500.1 L298.7 500.3 L298.8 500.5 L298.9 500.7 L299.0 500.8 L299.0 501.0 L299.1 501.2 L299.2 501.3 L299.3 501.5 L299.4 501.6 L299.5 501.8 L299.6 501.9 L299.6 502.1 L299.7 502.2 L299.8 502.4 L299.9 502.5 L300.0 502.6 L300.1 502.8 L300.2 502.9 L300.3 503.0 L300.4 503.1 L300.4 503.3 L300.5 503.4 L300.6 503.5 L300.7 503.6 L300.8 503.7 L300.9 503.8 L301.0 503.9 L301.1 504.1 L301.2 504.2 L301.3 504.2 L301.4 504.3 L301.5 504.4 L301.5 504.5 L301.6 504.6 L301.7 504.7 L301.7 504.7 L301.8 504.8 L301.9 504.8 L301.9 504.9" fill="none" stroke="#3a3ad0" stroke-width="0.9"/>
<circle cx="215.8" cy="457.6" r="4.65" fill="url(#gb)"/>
<circle cx="206.8" cy="459.8" r="4.65" fill="url(#gb)"/>
<circle cx="198.6" cy="462.1" r="4.65" fill="url(#gb)"/>
<circle cx="191.3" cy="464.8" r="4.65" fill="url(#gb)"/>
<circle cx="184.8" cy="467.5" r="4.65" fill="url(#gb)"/>
<circle cx="179.1" cy="470.5" r="4.65" fill="url(#gb)"/>
<circle cx="174.3" cy="473.8" r="4.65" fill="url(#gb)"/>
<circle cx="170.3" cy="477.4" r="4.65" fill="url(#gb)"/>
<circle cx="167.1" cy="481.0" r="4.65" fill="url(#gb)"/>
<circle cx="164.4" cy="484.5" r="4.65" fill="url(#gb)"/>
<circle cx="162.1" cy="487.9" r="4.65" fill="url(#gb)"/>
<circle cx="160.2" cy="491.1" r="4.65" fill="url(#gb)"/>
<circle cx="158.5" cy="494.0" r="4.65" fill="url(#gb)"/>
<circle cx="156.9" cy="496.7" r="4.65" fill="url(#gb)"/>
<circle cx="155.7" cy="499.2" r="4.65" fill="url(#gb)"/>
<circle cx="154.6" cy="501.5" r="4.65" fill="url(#gb)"/>
<circle cx="153.9" cy="503.7" r="4.65" fill="url(#gb)"/>
<circle cx="153.4" cy="505.8" r="4.65" fill="url(#gb)"/>
<circle cx="225.8" cy="455.6" r="4.65" fill="url(#gb)"/>
<circle cx="237.6" cy="454.2" r="4.65" fill="url(#gb)"/>
<circle cx="250.1" cy="455.1" r="4.65" fill="url(#gb)"/>
<circle cx="264.5" cy="458.7" r="4.65" fill="url(#gb)"/>
<circle cx="275.8" cy="465.9" r="4.65" fill="url(#gb)"/>
<circle cx="284.6" cy="474.0" r="4.65" fill="url(#gb)"/>
<circle cx="289.6" cy="482.4" r="4.65" fill="url(#gb)"/>
<circle cx="293.3" cy="488.4" r="4.65" fill="url(#gb)"/>
<circle cx="296.3" cy="493.5" r="4.65" fill="url(#gb)"/>
<circle cx="297.9" cy="498.5" r="4.65" fill="url(#gb)"/>
<circle cx="299.9" cy="502.5" r="4.65" fill="url(#gb)"/>
<circle cx="301.9" cy="504.9" r="4.65" fill="url(#gb)"/>
<path d="M150.2 507.5 L150.4 506.9 L150.6 506.0 L150.8 505.0 L151.1 503.9 L151.4 502.8 L151.7 501.9 L151.9 501.1 L152.1 500.3 L152.4 499.5 L152.6 498.8 L152.8 498.0 L153.1 497.3 L153.4 496.5 L153.6 495.8 L153.9 495.1 L154.2 494.3 L154.5 493.6 L154.8 492.8 L155.1 492.0 L155.5 491.2 L155.8 490.4 L156.2 489.6 L156.6 488.8 L157.0 488.0 L157.4 487.3 L157.8 486.5 L158.3 485.8 L158.7 485.1 L159.2 484.4 L159.6 483.7 L160.0 483.0 L160.5 482.3 L160.9 481.5 L161.3 480.8 L161.7 480.1 L162.2 479.3 L162.7 478.5 L163.1 477.8 L163.6 477.0 L164.1 476.2 L164.6 475.4 L165.2 474.6 L165.8 473.8 L166.5 473.0 L167.2 472.2 L167.9 471.3 L168.7 470.5 L169.4 469.6 L170.2 468.7 L170.9 467.8 L171.7 466.9 L172.5 466.0 L173.3 465.1 L174.2 464.1 L175.1 463.1 L176.0 462.0 L177.0 461.0 L178.0 459.9 L179.0 458.8 L180.1 457.7 L181.2 456.6 L182.3 455.5 L183.5 454.4 L184.7 453.3 L185.9 452.1 L187.2 451.0 L188.5 449.9 L189.8 448.7 L191.1 447.5 L192.5 446.4 L193.9 445.2 L195.4 444.0 L197.1 442.7 L198.9 441.3 L200.9 439.9 L202.7 438.6 L204.2 437.5 L205.3 436.7 L217.6 428.7 L232.3 420.2 L252.1 411.1 L277.2 405.0 L305.9 405.4 L336.0 411.7 L360.1 428.2 L381.2 442.7 L391.8 460.3 L401.9 472.8 L407.9 484.8 L409.3 494.9 L411.9 502.5" fill="none" stroke="#dc5050" stroke-width="0.9"/>
<circle cx="205.3" cy="436.7" r="4.65" fill="url(#gr)"/>
<circle cx="195.1" cy="444.2" r="4.65" fill="url(#gr)"/>
<circle cx="186.9" cy="451.3" r="4.65" fill="url(#gr)"/>
<circle cx="180.1" cy="457.7" r="4.65" fill="url(#gr)"/>
<circle cx="174.6" cy="463.6" r="4.65" fill="url(#gr)"/>
<circle cx="170.1" cy="468.8" r="4.65" fill="url(#gr)"/>
<circle cx="166.2" cy="473.3" r="4.65" fill="url(#gr)"/>
<circle cx="163.3" cy="477.5" r="4.65" fill="url(#gr)"/>
<circle cx="161.0" cy="481.3" r="4.65" fill="url(#gr)"/>
<circle cx="159.1" cy="484.6" r="4.65" fill="url(#gr)"/>
<circle cx="157.4" cy="487.3" r="4.65" fill="url(#gr)"/>
<circle cx="156.1" cy="489.8" r="4.65" fill="url(#gr)"/>
<circle cx="155.1" cy="492.0" r="4.65" fill="url(#gr)"/>
<circle cx="154.3" cy="493.9" r="4.65" fill="url(#gr)"/>
<circle cx="153.7" cy="495.6" r="4.65" fill="url(#gr)"/>
<circle cx="153.2" cy="497.0" r="4.65" fill="url(#gr)"/>
<circle cx="152.8" cy="498.3" r="4.65" fill="url(#gr)"/>
<circle cx="152.4" cy="499.5" r="4.65" fill="url(#gr)"/>
<circle cx="152.0" cy="500.8" r="4.65" fill="url(#gr)"/>
<circle cx="151.6" cy="502.0" r="4.65" fill="url(#gr)"/>
<circle cx="151.3" cy="503.3" r="4.65" fill="url(#gr)"/>
<circle cx="151.0" cy="504.5" r="4.65" fill="url(#gr)"/>
<circle cx="150.6" cy="505.8" r="4.65" fill="url(#gr)"/>
<circle cx="150.3" cy="507.1" r="4.65" fill="url(#gr)"/>
<circle cx="217.6" cy="428.7" r="4.65" fill="url(#gr)"/>
<circle cx="232.3" cy="420.2" r="4.65" fill="url(#gr)"/>
<circle cx="252.1" cy="411.1" r="4.65" fill="url(#gr)"/>
<circle cx="277.2" cy="405.0" r="4.65" fill="url(#gr)"/>
<circle cx="305.9" cy="405.4" r="4.65" fill="url(#gr)"/>
<circle cx="336.0" cy="411.7" r="4.65" fill="url(#gr)"/>
<circle cx="360.1" cy="428.2" r="4.65" fill="url(#gr)"/>
<circle cx="381.2" cy="442.7" r="4.65" fill="url(#gr)"/>
<circle cx="391.8" cy="460.3" r="4.65" fill="url(#gr)"/>
<circle cx="401.9" cy="472.8" r="4.65" fill="url(#gr)"/>
<circle cx="407.9" cy="484.8" r="4.65" fill="url(#gr)"/>
<circle cx="409.3" cy="494.9" r="4.65" fill="url(#gr)"/>
<circle cx="411.9" cy="502.5" r="4.65" fill="url(#gr)"/>
<path d="M152.3 507.5 L152.3 507.4 L152.4 507.2 L152.4 507.1 L152.4 506.9 L152.5 506.8 L152.5 506.6 L152.6 506.4 L152.6 506.2 L152.6 506.0 L152.7 505.7 L152.7 505.5 L152.8 505.3 L152.9 505.0 L152.9 504.8 L153.0 504.5 L153.0 504.2 L153.1 504.0 L153.2 503.7 L153.3 503.4 L153.3 503.1 L153.4 502.8 L153.5 502.5 L153.6 502.2 L153.7 501.9 L153.8 501.6 L153.9 501.3 L154.0 500.9 L154.1 500.6 L154.2 500.2 L154.3 499.9 L154.5 499.5 L154.6 499.1 L154.7 498.7 L154.8 498.4 L155.0 498.0 L155.1 497.6 L155.2 497.2 L155.4 496.8 L155.5 496.4 L155.7 496.0 L155.8 495.6 L156.0 495.2 L156.1 494.8 L156.3 494.4 L156.4 494.0 L156.6 493.6 L156.7 493.2 L156.9 492.8 L157.1 492.4 L157.2 492.0 L157.4 491.7 L157.6 491.3 L157.7 490.9 L157.9 490.5 L158.1 490.1 L158.2 489.8 L158.4 489.4 L158.6 489.0 L158.8 488.6 L159.0 488.2 L159.2 487.9 L159.4 487.5 L159.5 487.1 L159.7 486.7 L159.9 486.4 L160.1 486.0 L160.3 485.6 L160.5 485.2 L160.8 484.8 L161.0 484.5 L161.2 484.1 L161.4 483.7 L161.6 483.3 L161.9 482.9 L162.1 482.5 L162.3 482.1 L162.6 481.7 L162.8 481.3 L163.1 480.9 L163.3 480.5 L163.6 480.1 L163.8 479.7 L164.1 479.3 L164.4 478.9 L164.6 478.5 L164.9 478.2 L165.2 477.8 L165.4 477.4 L165.7 477.0 L165.9 476.6 L166.2 476.3 L166.4 475.9 L166.7 475.6 L166.9 475.2 L167.2 474.9 L167.4 474.6 L167.6 474.3 L167.9 474.0 L168.1 473.7 L168.3 473.4 L168.5 473.2 L168.7 472.9 L168.9 472.7 L169.1 472.4 L169.3 472.2 L169.6 471.9 L169.8 471.7 L170.0 471.5 L170.2 471.3 L170.4 471.0 L170.6 470.8 L170.8 470.6 L171.0 470.4 L171.2 470.2 L171.4 470.0 L171.6 469.7 L171.8 469.5 L172.1 469.3 L172.3 469.0 L172.5 468.8 L172.7 468.6 L173.0 468.3 L173.2 468.1 L173.4 467.8 L173.7 467.6 L173.9 467.3 L174.1 467.1 L174.4 466.9 L174.6 466.6 L174.9 466.4 L175.1 466.1 L175.4 465.9 L175.6 465.6 L175.9 465.4 L176.1 465.2 L176.3 464.9 L176.6 464.7 L176.8 464.4 L177.1 464.2 L177.3 463.9 L177.6 463.7 L177.8 463.5 L178.1 463.2 L178.3 463.0 L178.5 462.8 L178.8 462.5 L179.1 462.3 L179.3 462.0 L179.6 461.7 L179.9 461.5 L180.1 461.2 L180.4 460.9 L180.7 460.7 L181.0 460.4 L181.2 460.1 L181.5 459.9 L181.8 459.6 L182.0 459.4 L182.3 459.1 L182.5 458.9 L182.8 458.7 L183.0 458.5 L183.2 458.3 L183.4 458.1 L183.6 457.9 L183.7 457.8 L183.9 457.6 L184.0 457.5" fill="none" stroke="#7a0a14" stroke-width="1.3" opacity="0.85"/>
<path d="M154.6 507.5 L154.6 507.4 L154.7 507.2 L154.7 507.1 L154.7 506.9 L154.8 506.8 L154.8 506.6 L154.8 506.4 L154.9 506.2 L154.9 506.0 L155.0 505.7 L155.0 505.5 L155.1 505.3 L155.1 505.0 L155.2 504.8 L155.3 504.5 L155.3 504.2 L155.4 504.0 L155.5 503.7 L155.5 503.4 L155.6 503.1 L155.7 502.8 L155.8 502.5 L155.9 502.2 L156.0 501.9 L156.1 501.6 L156.2 501.3 L156.3 500.9 L156.5 500.6 L156.6 500.2 L156.7 499.9 L156.8 499.5 L157.0 499.1 L157.1 498.7 L157.3 498.4 L157.4 498.0 L157.6 497.6 L157.7 497.2 L157.9 496.8 L158.1 496.4 L158.2 496.0 L158.4 495.6 L158.6 495.2 L158.7 494.8 L158.9 494.4 L159.1 494.0 L159.2 493.6 L159.4 493.2 L159.6 492.8 L159.8 492.4 L160.0 492.0 L160.2 491.7 L160.3 491.3 L160.5 490.9 L160.7 490.5 L160.9 490.1 L161.1 489.8 L161.3 489.4 L161.5 489.0 L161.7 488.6 L161.9 488.2 L162.2 487.9 L162.4 487.5 L162.6 487.1 L162.8 486.7 L163.0 486.4 L163.2 486.0 L163.5 485.6 L163.7 485.2 L163.9 484.8 L164.1 484.5 L164.4 484.1 L164.6 483.7 L164.8 483.3 L165.1 482.9 L165.3 482.5 L165.5 482.1 L165.8 481.7 L166.0 481.3 L166.3 480.9 L166.5 480.5 L166.8 480.1 L167.1 479.7 L167.3 479.3 L167.6 478.9 L167.8 478.5 L168.1 478.1 L168.3 477.8 L168.6 477.4 L168.9 477.0 L169.1 476.6 L169.4 476.3 L169.6 475.9 L169.9 475.6 L170.1 475.2 L170.4 474.9 L170.6 474.6 L170.8 474.3 L171.1 474.0 L171.3 473.7 L171.6 473.4 L171.9 473.1 L172.1 472.8 L172.4 472.5 L172.6 472.3 L172.9 472.0 L173.2 471.7 L173.4 471.5 L173.7 471.2 L173.9 471.0 L174.2 470.8 L174.4 470.5 L174.6 470.3 L174.8 470.1 L175.0 469.9 L175.2 469.7 L175.4 469.6 L175.6 469.4 L175.7 469.3 L175.9 469.1 L176.0 469.0" fill="none" stroke="#3c14b4" stroke-width="1.2" opacity="0.85"/>
</g>
<rect x="112.2" y="340.0" width="416.9" height="166.9" fill="none" stroke="#000" stroke-width="2.0"/>
<text x="98.53" y="526.10" font-family='"Liberation Sans", Arial, sans-serif' font-size="19.10" font-weight="bold">0.0</text>
<text x="158.08" y="526.10" font-family='"Liberation Sans", Arial, sans-serif' font-size="19.10" font-weight="bold">0.1</text>
<text x="217.63" y="526.10" font-family='"Liberation Sans", Arial, sans-serif' font-size="19.10" font-weight="bold">0.2</text>
<text x="277.18" y="526.10" font-family='"Liberation Sans", Arial, sans-serif' font-size="19.10" font-weight="bold">0.3</text>
<text x="336.73" y="526.10" font-family='"Liberation Sans", Arial, sans-serif' font-size="19.10" font-weight="bold">0.4</text>
<text x="396.28" y="526.10" font-family='"Liberation Sans", Arial, sans-serif' font-size="19.10" font-weight="bold">0.5</text>
<text x="455.83" y="526.10" font-family='"Liberation Sans", Arial, sans-serif' font-size="19.10" font-weight="bold">0.6</text>
<text x="515.38" y="526.10" font-family='"Liberation Sans", Arial, sans-serif' font-size="19.10" font-weight="bold">0.7</text>
<text x="77.95" y="507.70" font-family='"Liberation Sans", Arial, sans-serif' font-size="19.10" font-weight="bold">0.0</text>
<text x="77.95" y="448.50" font-family='"Liberation Sans", Arial, sans-serif' font-size="19.10" font-weight="bold">0.1</text>
<text x="77.95" y="389.60" font-family='"Liberation Sans", Arial, sans-serif' font-size="19.10" font-weight="bold">0.2</text>
<text transform="translate(260.61 559.50) scale(1.0703 1)" font-family='"Liberation Sans", Arial, sans-serif' font-size="23.00" font-weight="bold">Z</text>
<text transform="translate(276.41 569.00) scale(1.0408 1)" font-family='"Liberation Sans", Arial, sans-serif' font-size="13.50" font-weight="bold">Re</text>
<text transform="translate(301.15 559.50) scale(1.0156 1)" font-family='"Liberation Sans", Arial, sans-serif' font-size="23.00" font-weight="normal">/</text>
<text transform="translate(312.68 559.50) scale(1.1544 1)" font-family='"Liberation Serif", "Times New Roman", serif' font-size="23.00" font-weight="normal">Ω</text>
<text transform="translate(336.12 559.50) scale(1.0324 1)" font-family='"Liberation Sans", Arial, sans-serif' font-size="23.00" font-weight="bold">cm</text>
<text transform="translate(371.57 546.50) scale(0.9394 1)" font-family='"Liberation Sans", Arial, sans-serif' font-size="13.50" font-weight="bold">2</text>
<text transform="translate(55.60 478.84) rotate(-90) scale(0.9833 1)" font-family='"Liberation Sans", Arial, sans-serif' font-size="23.00" font-weight="bold">-</text>
<text transform="translate(55.60 470.94) rotate(-90) scale(0.9766 1)" font-family='"Liberation Sans", Arial, sans-serif' font-size="23.00" font-weight="bold">Z</text>
<text transform="translate(65.20 456.45) rotate(-90) scale(1.0007 1)" font-family='"Liberation Sans", Arial, sans-serif' font-size="14.00" font-weight="bold">Im</text>
<text transform="translate(55.60 432.65) rotate(-90) scale(1.0156 1)" font-family='"Liberation Sans", Arial, sans-serif' font-size="23.00" font-weight="normal">/</text>
<text transform="translate(55.60 419.81) rotate(-90) scale(1.0537 1)" font-family='"Liberation Serif", "Times New Roman", serif' font-size="23.00" font-weight="normal">Ω</text>
<text transform="translate(55.60 398.46) rotate(-90) scale(1.0099 1)" font-family='"Liberation Sans", Arial, sans-serif' font-size="23.00" font-weight="bold">cm</text>
<text transform="translate(42.30 364.75) rotate(-90) scale(1.2500 1)" font-family='"Liberation Sans", Arial, sans-serif' font-size="13.50" font-weight="bold">2</text>
<text transform="translate(137.17 382.40) scale(1.0143 1)" font-family='"Liberation Sans", Arial, sans-serif' font-size="28.00" font-weight="bold">1.6</text>
<text transform="translate(186.61 382.40) scale(1.0026 1)" font-family='"Liberation Sans", Arial, sans-serif' font-size="28.00" font-weight="bold">A</text>
<text transform="translate(215.79 382.40) scale(1.0616 1)" font-family='"Liberation Sans", Arial, sans-serif' font-size="25.50" font-weight="bold">cm</text>
<text transform="translate(255.84 374.20) scale(1.1821 1)" font-family='"Liberation Sans", Arial, sans-serif' font-size="16.00" font-weight="bold">-2</text>
<circle cx="314.2" cy="351.4" r="4.6" fill="url(#gk)"/>
<circle cx="314.2" cy="366.8" r="4.6" fill="url(#gb)"/>
<circle cx="314.2" cy="382.2" r="4.6" fill="url(#gr)"/>
<text transform="translate(330.86 354.80) scale(0.9819 1)" font-family='"Liberation Serif", "Times New Roman", serif' font-size="9.90" font-weight="bold">Conventional MEA</text>
<text transform="translate(331.15 370.10) scale(0.9811 1)" font-family='"Liberation Serif", "Times New Roman", serif' font-size="9.90" font-weight="bold">P-20 MEA (S ~0.5)</text>
<text transform="translate(331.15 385.40) scale(0.9811 1)" font-family='"Liberation Serif", "Times New Roman", serif' font-size="9.90" font-weight="bold">P-50 MEA (S ~0.5)</text>
<line x1="438.3" y1="351.45" x2="465.8" y2="351.45" stroke="#2a2a2a" stroke-width="0.9"/>
<line x1="438.3" y1="366.7" x2="465.8" y2="366.7" stroke="#6868c4" stroke-width="1.0"/>
<line x1="438.3" y1="382.4" x2="465.8" y2="382.4" stroke="#a84848" stroke-width="0.9"/>
<text transform="translate(468.35 355.10) scale(1.0367 1)" font-family='"Liberation Serif", "Times New Roman", serif' font-size="10.90" font-weight="bold">Fitted</text>
<text transform="translate(502.43 355.10) scale(1.0378 1)" font-family='"Liberation Serif", "Times New Roman", serif' font-size="10.90" font-weight="bold">data</text>
<text transform="translate(468.35 370.80) scale(1.0367 1)" font-family='"Liberation Serif", "Times New Roman", serif' font-size="10.90" font-weight="bold">Fitted</text>
<text transform="translate(502.43 370.80) scale(1.0378 1)" font-family='"Liberation Serif", "Times New Roman", serif' font-size="10.90" font-weight="bold">data</text>
<text transform="translate(468.35 385.70) scale(1.0367 1)" font-family='"Liberation Serif", "Times New Roman", serif' font-size="10.90" font-weight="bold">Fitted</text>
<text transform="translate(502.43 385.70) scale(1.0378 1)" font-family='"Liberation Serif", "Times New Roman", serif' font-size="10.90" font-weight="bold">data</text>
<g fill="none" stroke="#000" stroke-width="1.7" stroke-linejoin="miter" stroke-linecap="butt">
<path d="M63.4 639.55 H112.4"/>
<ellipse cx="116.50" cy="639.00" rx="4.1" ry="5.15" fill="#fff" stroke-width="1.8"/>
<ellipse cx="122.05" cy="639.00" rx="4.1" ry="5.15" fill="#fff" stroke-width="1.8"/>
<ellipse cx="127.60" cy="639.00" rx="4.1" ry="5.15" fill="#fff" stroke-width="1.8"/>
<ellipse cx="133.15" cy="639.00" rx="4.1" ry="5.15" fill="#fff" stroke-width="1.8"/>
<ellipse cx="138.70" cy="639.00" rx="4.1" ry="5.15" fill="#fff" stroke-width="1.8"/>
<path d="M116.5 633.85 H138.7 M116.5 644.15 H138.7" stroke-width="1.8"/>
<path d="M142.8 639.55 H215"/>
<path d="M187.8 639.55 H220.8"/>
<path d="M214.85 633.90 L221.05 639.55 L214.85 645.20" stroke-width="1.8"/>
<path d="M225.75 633.90 L231.75 639.55 L225.75 645.20" stroke-width="1.8"/>
<path d="M231.4 639.55 H280.0"/>
<path d="M279.0 639.5 L280.8 639.5 l5.5 5.5 l11 -11 l11 11 l11 -11 l5.5 5.5 H362"/>
<path d="M187.8 639.5 V672.3 L204.5 672.3 l5.5 5.5 l11 -11 l11 11 l11 -11 l5.5 5.5 H264.8 V639.5"/>
<path d="M362.0 639.55 H395.4"/>
<path d="M389.50 633.90 L395.70 639.55 L389.50 645.20" stroke-width="1.8"/>
<path d="M400.40 633.90 L406.40 639.55 L400.40 645.20" stroke-width="1.8"/>
<path d="M406.0 639.55 H543.4"/>
<path d="M362.0 639.5 V672.3 L378.9 672.3 l5.5 5.5 l11 -11 l11 11 l11 -11 l5.5 5.5 H469.5"/>
<path d="M468.2 666.6 L474.2 678.4 L477.7 672.2 L481.2 678.4 L485.9 666.6" stroke-width="1.7"/>
<path d="M486.0 672.3 H514.7 V639.5"/>
</g>
<circle cx="187.8" cy="639.5" r="5.6" fill="#000"/>
<circle cx="362.0" cy="639.5" r="5.6" fill="#000"/>
<text transform="translate(121.88 627.80) scale(0.9634 1)" font-family='"Liberation Sans", Arial, sans-serif' font-size="10.50" font-weight="bold">L1</text>
<text transform="translate(212.03 627.80) scale(1.0564 1)" font-family='"Liberation Sans", Arial, sans-serif' font-size="10.50" font-weight="bold">CPE1</text>
<text transform="translate(296.10 627.80) scale(0.9293 1)" font-family='"Liberation Sans", Arial, sans-serif' font-size="10.50" font-weight="bold">R1</text>
<text transform="translate(386.83 627.80) scale(1.0416 1)" font-family='"Liberation Sans", Arial, sans-serif' font-size="10.50" font-weight="bold">CPE2</text>
<text transform="translate(219.41 660.60) scale(1.0579 1)" font-family='"Liberation Sans", Arial, sans-serif' font-size="10.50" font-weight="bold">R2</text>
<text transform="translate(394.54 660.60) scale(1.0095 1)" font-family='"Liberation Sans", Arial, sans-serif' font-size="10.50" font-weight="bold">R3</text>
<text transform="translate(468.55 660.60) scale(1.0251 1)" font-family='"Liberation Sans", Arial, sans-serif' font-size="10.50" font-weight="bold">W1</text>
<text transform="translate(484.80 679.20) scale(1.1818 1)" font-family='"Liberation Sans", Arial, sans-serif' font-size="9.00" font-weight="bold">s</text>
</svg>
</body></html>
